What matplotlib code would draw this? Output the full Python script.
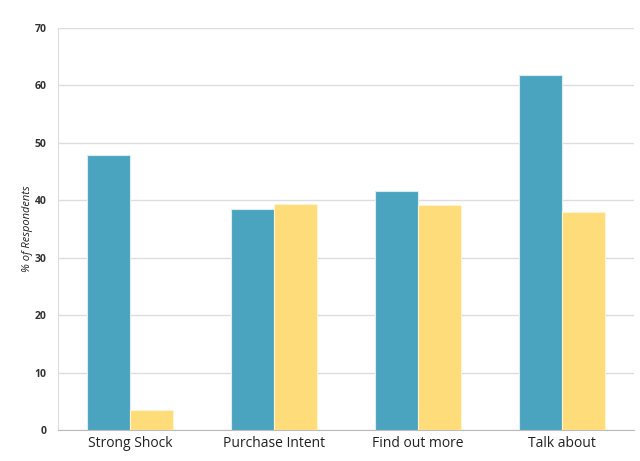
import numpy as np
import matplotlib.pyplot as plt

categories = ["Strong Shock", "Purchase Intent", "Find out more", "Talk about"]
series_a = [47.9, 38.4, 41.7, 61.9]
series_b = [3.4, 39.4, 39.2, 38.0]
y_ticks = [0, 10, 20, 30, 40, 50, 60, 70]

plt.rcParams['font.family'] = ['Open Sans', 'DejaVu Sans']

fig = plt.figure(figsize=(6.4, 4.61), dpi=100)
ax = fig.add_axes([0.0906, 0.0672, 0.9, 0.872])

x = np.arange(len(categories))
w = 0.3
ax.bar(x - w / 2, series_a, w, color='#4aa3bf', edgecolor='#dcecf3', linewidth=0.8, zorder=3)
ax.bar(x + w / 2, series_b, w, color='#fedc7a', edgecolor='#fff3d0', linewidth=0.8, zorder=3)

ax.set_xlim(-0.5, 3.5)
ax.set_ylim(0, 70)
ax.set_yticks(y_ticks)
ax.set_yticklabels([str(t) for t in y_ticks], fontsize=7.5, fontweight='bold', color='#333333')
ax.set_xticks(x)
ax.set_xticklabels(categories, fontsize=10, color='#222222')
ax.tick_params(axis='y', length=0, pad=8)
ax.tick_params(axis='x', length=0, pad=4)
ax.grid(axis='y', color='#dddddd', linewidth=1, zorder=0)
ax.set_ylabel("% of Respondents", fontsize=8, style='italic', color='#222222', labelpad=1.5)

for s in ['top', 'right']:
    ax.spines[s].set_visible(False)
ax.spines['left'].set_color('#dddddd')
ax.spines['bottom'].set_color('#bbbbbb')

fig.savefig("out.png", dpi=100)
